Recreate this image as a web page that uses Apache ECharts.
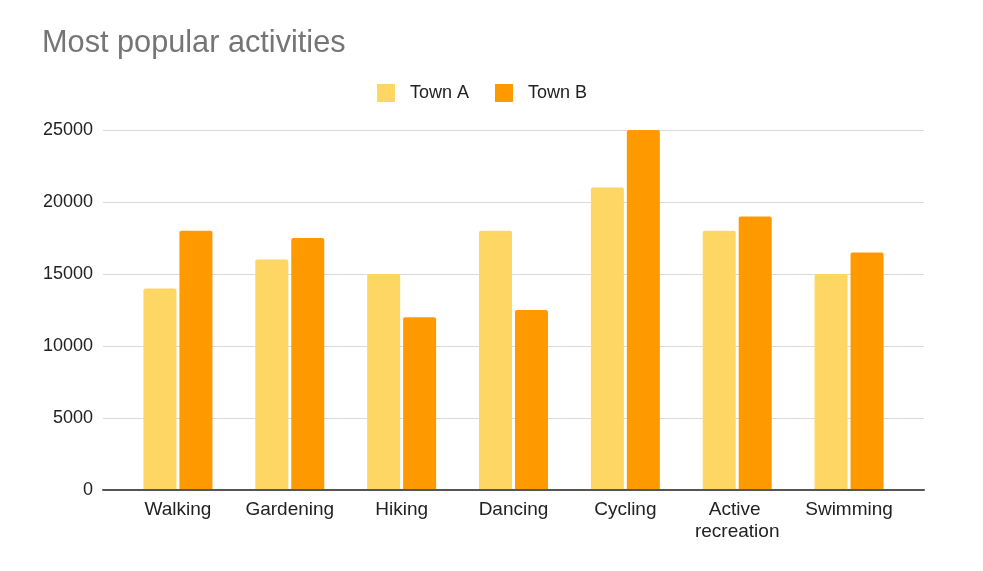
<!DOCTYPE html>
<html>
<head>
<meta charset="utf-8">
<script src="https://cdn.jsdelivr.net/npm/echarts@6/dist/echarts.min.js"></script>
<style>
  html, body { margin: 0; padding: 0; background: #fff; }
  #chart { width: 983px; height: 571px; }
</style>
</head>
<body>
<div id="chart"></div>
<script>
// data
var categories = ['Walking', 'Gardening', 'Hiking', 'Dancing', 'Cycling', 'Active recreation', 'Swimming'];
var townA = [14000, 16000, 15000, 18000, 21000, 18000, 15000];
var townB = [18000, 17500, 12000, 12500, 25000, 19000, 16500];
var yTicks = [0, 5000, 10000, 15000, 20000, 25000];

var font = '"Liberation Sans", Arial, sans-serif';
var chart = echarts.init(document.getElementById('chart'));

var yMin = yTicks[0];
var yMax = yTicks[yTicks.length - 1];

var option = {
  animation: false,
  textStyle: { fontFamily: font },
  title: {
    text: 'Most popular activities',
    left: 37,
    top: 23,
    textStyle: { fontFamily: font, fontSize: 30.7, fontWeight: 'normal', color: '#757575' }
  },
  legend: {
    data: ['Town A', 'Town B'],
    top: 79,
    left: 372,
    icon: 'rect',
    itemWidth: 18,
    itemHeight: 18,
    itemGap: 26,
    textStyle: { fontFamily: font, fontSize: 18, color: '#222', padding: [0, 0, 0, 10] }
  },
  // grid 0 holds the gridlines and baseline, grid 1 holds the bars (inset like the original)
  grid: [
    { left: 103, right: 59, top: 130, bottom: 81 },
    { left: 122, right: 78, top: 130, bottom: 81 }
  ],
  xAxis: [
    {
      type: 'value',
      gridIndex: 0,
      min: 0,
      max: 1,
      z: 5,
      axisLine: { show: true, onZero: false, lineStyle: { color: '#555', width: 2 } },
      axisTick: { show: false },
      axisLabel: { show: false },
      splitLine: { show: false }
    },
    {
      type: 'category',
      gridIndex: 1,
      data: categories,
      axisTick: { show: false },
      axisLine: { show: false },
      axisLabel: {
        interval: 0,
        fontFamily: font, fontSize: 19, color: '#222', margin: 9,
        width: 100, overflow: 'break', lineHeight: 22
      }
    }
  ],
  yAxis: [
    {
      type: 'value',
      gridIndex: 0,
      min: yMin,
      max: yMax,
      interval: 5000,
      axisLine: { show: false },
      axisTick: { show: false },
      splitLine: { lineStyle: { color: '#d9d9d9', width: 1 } },
      axisLabel: {
        fontFamily: font, fontSize: 18, color: '#222', margin: 10,
        formatter: function (v) { return String(v); }
      }
    },
    {
      type: 'value',
      gridIndex: 1,
      min: yMin,
      max: yMax,
      show: false
    }
  ],
  series: [
    {
      name: 'Town A',
      type: 'bar',
      xAxisIndex: 1,
      yAxisIndex: 1,
      data: townA,
      barWidth: 33,
      barGap: '9%',
      itemStyle: { color: '#fdd663', borderRadius: [2, 2, 0, 0] }
    },
    {
      name: 'Town B',
      type: 'bar',
      xAxisIndex: 1,
      yAxisIndex: 1,
      data: townB,
      barWidth: 33,
      itemStyle: { color: '#ff9900', borderRadius: [2, 2, 0, 0] }
    }
  ]
};

if (option && typeof option === 'object') {
  chart.setOption(option, true);
}
</script>
</body>
</html>
